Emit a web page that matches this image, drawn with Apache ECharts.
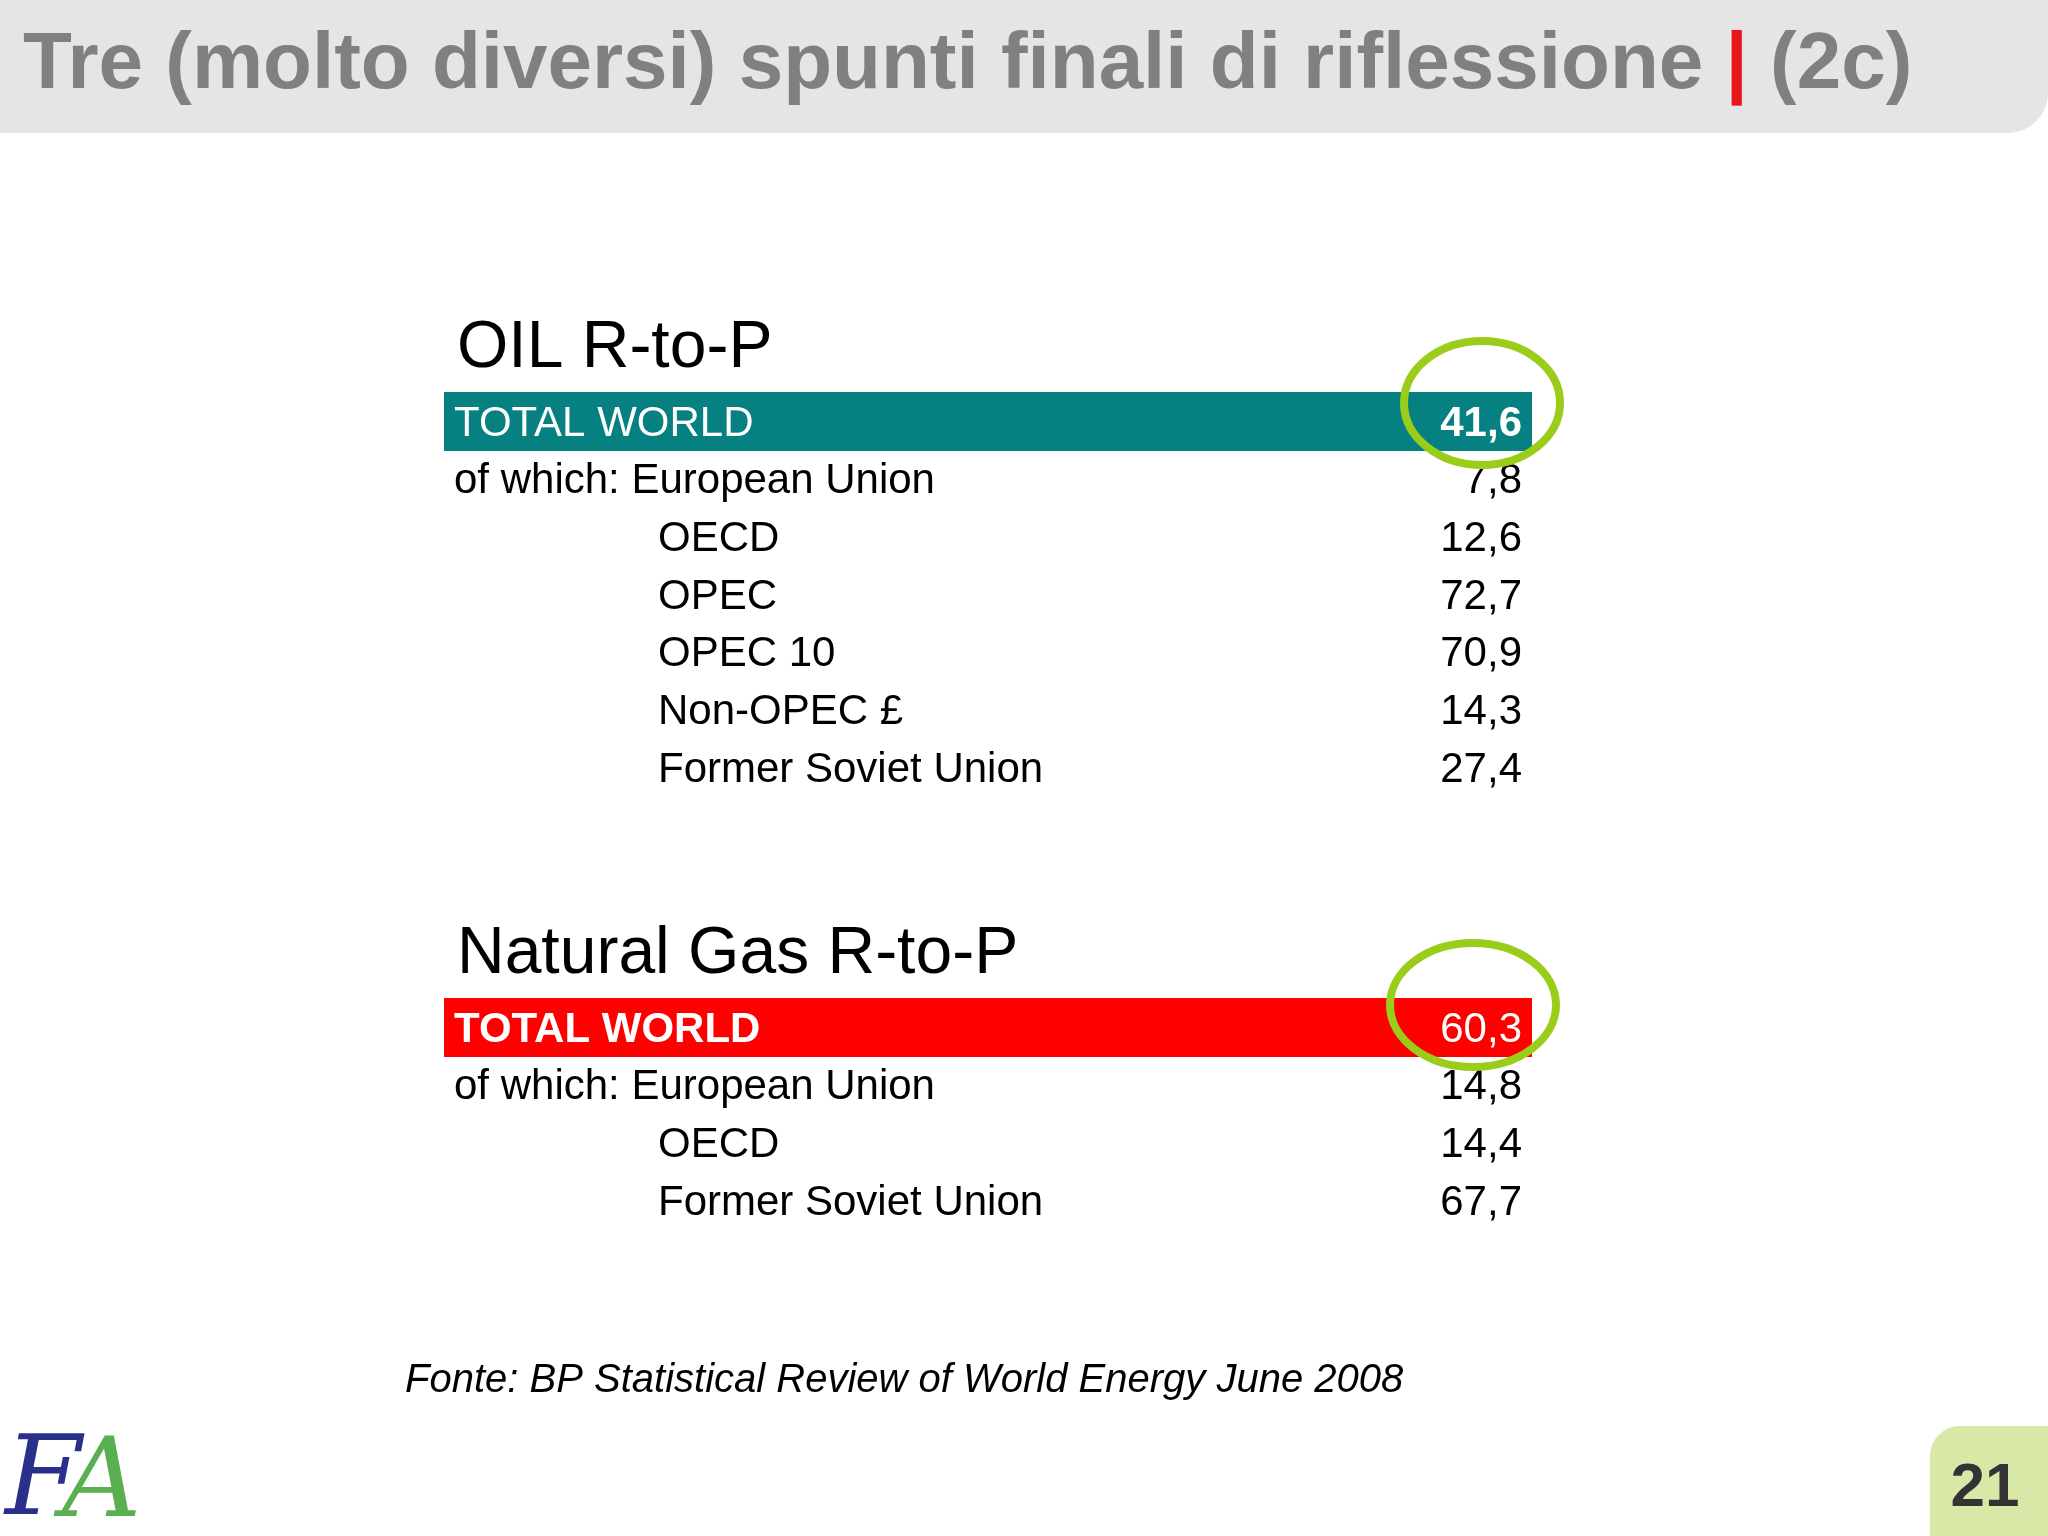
<!DOCTYPE html>
<html>
<head>
<meta charset="utf-8">
<script src="https://cdn.jsdelivr.net/npm/echarts@6/dist/echarts.min.js"></script>
<style>html,body{margin:0;padding:0;background:#fff}#chart{width:2048px;height:1536px}</style>
</head>
<body>
<div id="chart"></div>
<script>
const oilLabels = ["TOTAL WORLD", "of which: European Union", "OECD", "OPEC", "OPEC 10", "Non-OPEC £", "Former Soviet Union"]
const oilValues = ["41,6", "7,8", "12,6", "72,7", "70,9", "14,3", "27,4"]
const gasLabels = ["TOTAL WORLD", "of which: European Union", "OECD", "Former Soviet Union"]
const gasValues = ["60,3", "14,8", "14,4", "67,7"]

const chart = echarts.init(document.getElementById("chart"))
const font = "Liberation Sans, Arial, sans-serif"
const elements = []

function table(title, labels, values, top, color, boldHead) {
	elements.push({ type: "text", left: 457, top: top - 36, style: { text: title, font: "66px " + font, fill: "#000" } })
	elements.push({ type: "rect", shape: { x: 444, y: top + 40, width: 1088, height: 59 }, style: { fill: color } })
	labels.forEach((lab, i) => {
		const y = top + 72 + i * 57.7
		const head = i === 0
		const x = i <= 1 ? 454 : 658
		elements.push({ type: "text", x: x, y: y, style: { text: lab, font: (head && boldHead ? "bold " : "") + "42px " + font, fill: head ? "#fff" : "#000", textVerticalAlign: "middle" } })
		elements.push({ type: "text", x: 1522, y: y, style: { text: values[i], font: (head && !boldHead ? "bold " : "") + "42px " + font, fill: head ? "#fff" : "#000", textAlign: "right", textVerticalAlign: "middle" } })
	})
}

table("OIL R-to-P", oilLabels, oilValues, 352, "#068080", false)
table("Natural Gas R-to-P", gasLabels, gasValues, 958, "#ff0000", true)

chart.setOption({
	backgroundColor: "#fff",
	graphic: [
		{ type: "rect", shape: { x: -40, y: -40, width: 2088, height: 173, r: 40 }, style: { fill: "#e5e5e5" } },
		{ type: "text", x: 23, y: 66, style: { rich: { g: { fill: "#808080", font: "bold 80px " + font }, r: { fill: "#e8151b", font: "bold 80px " + font } }, text: "{g|Tre (molto diversi) spunti finali di riflessione }{r||}{g| (2c)}", textVerticalAlign: "middle" } },
		...elements,
		{ type: "ellipse", shape: { cx: 1482, cy: 403, rx: 78, ry: 62 }, style: { fill: "none", stroke: "#9acd1a", lineWidth: 8 } },
		{ type: "ellipse", shape: { cx: 1473, cy: 1005, rx: 83, ry: 62 }, style: { fill: "none", stroke: "#9acd1a", lineWidth: 8 } },
		{ type: "text", x: 405, y: 1381, style: { text: "Fonte: BP Statistical Review of World Energy June 2008", font: "italic 40px " + font, fill: "#000", textVerticalAlign: "middle" } },
		{ type: "rect", shape: { x: 1930, y: 1426, width: 160, height: 150, r: 30 }, style: { fill: "#d8e8a6" } },
		{ type: "text", x: 1985, y: 1489, style: { text: "21", font: "bold 62px " + font, fill: "#333", textAlign: "center", textVerticalAlign: "middle" } },
		{ type: "text", x: 5, y: 1485, style: { text: "F", font: "italic 110px DejaVu Serif, serif", fill: "#2a2f8c", textVerticalAlign: "middle" } },
		{ type: "text", x: 62, y: 1487, style: { text: "A", font: "italic 110px DejaVu Serif, serif", fill: "#5ab050", textVerticalAlign: "middle" } }
	]
})
</script>
</body>
</html>
